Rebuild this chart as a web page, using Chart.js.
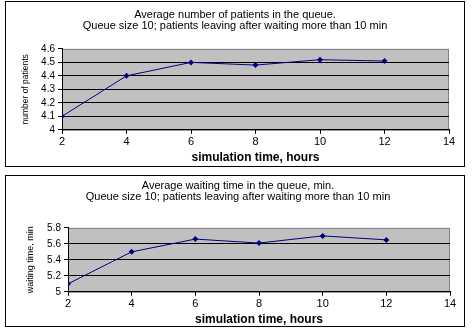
<!DOCTYPE html>
<html>
<head>
<meta charset="utf-8">
<script src="https://cdn.jsdelivr.net/npm/chart.js@4/dist/chart.umd.min.js"></script>
<style>
  body { margin: 0; background: #fff; width: 474px; height: 335px; position: relative; overflow: hidden; }
  .box { position: absolute; border: 1px solid #000; background: #fff; }
  #box1 { left: 5px; top: 1px; width: 458px; height: 164px; }
  #box2 { left: 5px; top: 175px; width: 458px; height: 150px; }
  canvas { display: block; }
</style>
</head>
<body>
<div class="box" id="box1"><canvas id="chart1"></canvas></div>
<div class="box" id="box2"><canvas id="chart2"></canvas></div>
<script>
// simulation time, hours
const hours = [2, 4, 6, 8, 10, 12];
// average number of patients in the queue
const patients = [4.1, 4.4, 4.5, 4.48, 4.52, 4.51];
// average waiting time, min
const waiting = [5.1, 5.5, 5.66, 5.61, 5.7, 5.65];

const navy = "#000080";
const plotBg = {
	id: "plotBg",
	beforeDraw(chart) {
		const a = chart.chartArea;
		const ctx = chart.ctx;
		ctx.save();
		ctx.fillStyle = "#c0c0c0";
		ctx.fillRect(a.left, a.top, a.right - a.left, a.bottom - a.top);
		ctx.strokeStyle = "#808080";
		ctx.lineWidth = 1;
		ctx.strokeRect(a.left + 0.5, a.top + 0.5, a.right - a.left - 1, a.bottom - a.top);
		ctx.restore();
	},
};

function makeChart(id, w, h, opts) {
	const canvas = document.getElementById(id);
	canvas.width = w;
	canvas.height = h;
	canvas.style.width = w + "px";
	canvas.style.height = h + "px";
	return new Chart(canvas, {
		type: "scatter",
		data: {
			datasets: [{
				data: hours.map((x, i) => ({ x: x, y: opts.values[i] })),
				showLine: true,
				borderColor: navy,
				backgroundColor: navy,
				borderWidth: 1,
				pointStyle: "rectRot",
				pointRadius: 3,
				pointBorderWidth: 0,
			}],
		},
		options: {
			responsive: false,
			animation: false,
			layout: { padding: { left: opts.padLeft, right: opts.padRight, bottom: opts.padBottom, top: 0 } },
			plugins: {
				legend: { display: false },
				tooltip: { enabled: false },
				title: {
					display: true,
					text: opts.title,
					color: "#000",
					font: { family: "Liberation Sans, Arial", size: 11, weight: "normal", lineHeight: 0.95 },
					padding: { top: opts.titleTop, bottom: opts.titleBottom },
				},
			},
			scales: {
				x: {
					type: "linear",
					min: 2,
					max: 14,
					ticks: { stepSize: 2, autoSkip: false, color: "#000", padding: 3, font: { family: "Liberation Sans, Arial", size: 11, lineHeight: 1.0 } },
					grid: { color: "transparent", tickColor: "#000", tickLength: 4 },
					border: { display: true, color: "#000" },
					title: {
						display: true,
						text: "simulation time, hours",
						color: "#000",
						font: { family: "Liberation Sans, Arial", size: 12, weight: "bold", lineHeight: 1.1 },
						padding: { top: 0, bottom: 0 },
					},
				},
				y: {
					min: opts.yMin,
					max: opts.yMax,
					afterFit: (s) => { s.width = opts.yWidth; },
					ticks: {
						stepSize: opts.yStep,
						autoSkip: false,
						color: "#000",
						padding: 3,
						font: { family: "Liberation Sans, Arial", size: 10, lineHeight: 1.0 },
						callback: (v) => String(Math.round(v * 10) / 10),
					},
					grid: {
						color: (c) => (c.tick && Math.abs(c.tick.value - opts.yMax) < 1e-9 ? "transparent" : "#000"),
						tickColor: "#000",
						tickLength: 4,
					},
					border: { display: true, color: "#000" },
					title: {
						display: true,
						text: opts.yTitle,
						color: "#000",
						font: { family: "Liberation Sans Narrow, Arial", size: opts.yTitleSize, lineHeight: 1.0 },
						padding: 0,
					},
				},
			},
		},
		plugins: [plotBg],
	});
}

makeChart("chart1", 458, 164, {
	values: patients,
	title: ["Average number of patients in the queue.", "Queue size 10; patients leaving after waiting more than 10 min"],
	yTitle: "number of patients",
	yMin: 4, yMax: 4.6, yStep: 0.1, yTitleSize: 8.5,
	padLeft: 15, yWidth: 41,
	padRight: 15, padBottom: 2, titleTop: 8, titleBottom: 18,
});

makeChart("chart2", 458, 150, {
	values: waiting,
	title: ["Average waiting time in the queue, min.", "Queue size 10; patients leaving after waiting more than 10 min"],
	yTitle: "waiting time, min",
	yMin: 5, yMax: 5.8, yStep: 0.2, yTitleSize: 9,
	padLeft: 20, yWidth: 42,
	padRight: 14, padBottom: 0, titleTop: 5, titleBottom: 26,
});
</script>
</body>
</html>
